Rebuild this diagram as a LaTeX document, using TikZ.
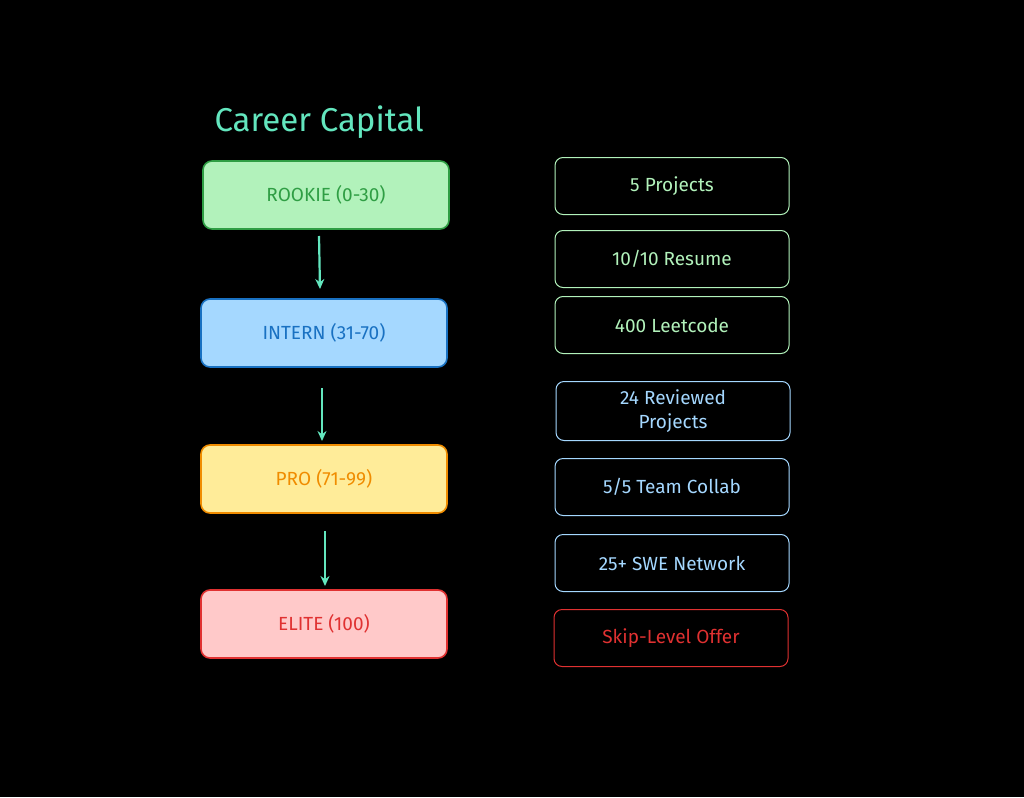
\documentclass[tikz,border=0pt]{standalone}
\usepackage{fontspec}
\setmainfont{Fira Sans}
\usetikzlibrary{arrows.meta}
\definecolor{aqua}{HTML}{63E6BE}
\definecolor{gfill}{HTML}{B2F2BB}\definecolor{gline}{HTML}{2F9E44}
\definecolor{bfill}{HTML}{A5D8FF}\definecolor{bline}{HTML}{1971C2}
\definecolor{yfill}{HTML}{FFEC99}\definecolor{yline}{HTML}{F08C00}
\definecolor{rfill}{HTML}{FFC9C9}\definecolor{rline}{HTML}{E03131}
\begin{document}
\begin{tikzpicture}[x=1pt,y=-1pt,
 stage/.style={draw,line width=1.6pt,rounded corners=9pt,minimum width=246pt,minimum height=68pt,font=\fontsize{19}{21}\selectfont},
 item/.style={draw,line width=1pt,rounded corners=8pt,minimum width=234pt,minimum height=57pt,align=center,font=\fontsize{19}{24}\selectfont},
 arr/.style={draw=aqua,line width=2.2pt,-{Stealth[length=10pt,width=9pt]}}]
\fill[black] (0,0) rectangle (1024,797);
\useasboundingbox (0,0) rectangle (1024,797);
\node[aqua,anchor=west,font=\fontsize{33}{36}\selectfont] (title) at (211,122) {Career Capital};
\node[stage,fill=gfill,draw=gline,text=gline] (rookie) at (326,195) {ROOKIE (0-30)};
\node[stage,fill=bfill,draw=bline,text=bline] (intern) at (324,333) {INTERN (31-70)};
\node[stage,fill=yfill,draw=yline,text=yline] (pro) at (324,479) {PRO (71-99)};
\node[stage,fill=rfill,draw=rline,text=rline] (elite) at (324,624) {ELITE (100)};
\coordinate (a1s) at (319,236); \coordinate (a1e) at (320,289);
\coordinate (a2s) at (322,388); \coordinate (a2e) at (322,441);
\coordinate (a3s) at (325,531); \coordinate (a3e) at (325,586);
\draw[arr] (a1s) -- (a1e);
\draw[arr] (a2s) -- (a2e);
\draw[arr] (a3s) -- (a3e);
\node[item,draw=gfill,text=gfill] (p1) at (672,186) {5 Projects};
\node[item,draw=gfill,text=gfill] (p2) at (672,259) {10/10 Resume};
\node[item,draw=gfill,text=gfill] (p3) at (672,325) {400 Leetcode};
\node[item,draw=bfill,text=bfill,minimum height=59pt] (p4) at (673,411) {24 Reviewed\\Projects};
\node[item,draw=bfill,text=bfill] (p5) at (672,487) {5/5 Team Collab};
\node[item,draw=bfill,text=bfill] (p6) at (672,563) {25+ SWE Network};
\node[item,draw=rline,text=rline] (p7) at (671,638) {Skip-Level Offer};
\end{tikzpicture}
\end{document}
